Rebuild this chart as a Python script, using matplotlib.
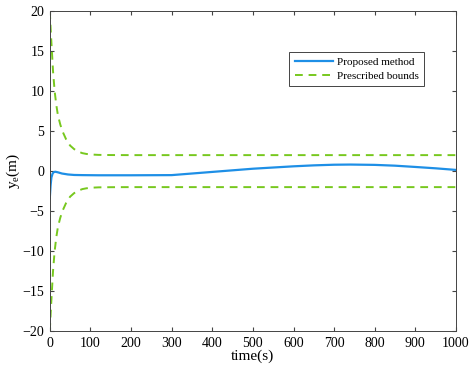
import numpy as np
import matplotlib
matplotlib.use('Agg')
import matplotlib.pyplot as plt

plt.rcParams['font.family'] = 'Liberation Serif'
plt.rcParams['mathtext.fontset'] = 'custom'
plt.rcParams['mathtext.rm'] = 'Liberation Serif'
plt.rcParams['mathtext.it'] = 'Liberation Serif:italic'

# values
t_proposed = [0, 2, 4, 7, 10, 14, 20, 30, 45, 60, 80, 120, 200, 300, 350, 400, 450,
              500, 550, 600, 650, 700, 740, 800, 850, 900, 950, 1000]
y_proposed = [-3.4, -1.8, -0.8, -0.3, -0.12, -0.08, -0.15, -0.3, -0.42, -0.48, -0.5,
              -0.52, -0.52, -0.5, -0.3, -0.1, 0.1, 0.3, 0.45, 0.6, 0.72, 0.8, 0.82,
              0.78, 0.68, 0.52, 0.35, 0.15]

t_bound = [0, 3, 5, 8, 12, 16, 20, 26, 32, 40, 50, 60, 70, 80, 90, 100, 120, 150, 200, 1000]
upper_bound = [20, 17.0, 15.2, 12.5, 10.0, 8.3, 7.0, 5.8, 4.9, 4.0, 3.2, 2.75, 2.45,
               2.25, 2.15, 2.08, 2.03, 2.01, 2.0, 2.0]
lower_bound = [-20, -17.0, -15.2, -12.5, -10.0, -8.3, -7.0, -5.8, -4.9, -4.0, -3.2, -2.75,
               -2.45, -2.25, -2.15, -2.08, -2.03, -2.01, -2.0, -2.0]

blue = '#1E8FE6'
green = '#77C81E'

fig = plt.figure(figsize=(4.74, 3.72), dpi=100)
ax = fig.add_axes([0.105, 0.110, 0.857, 0.860])

ax.plot(t_proposed, y_proposed, color=blue, lw=1.6, label='Proposed method')
ax.plot(t_bound, upper_bound, color=green, lw=1.4, ls=(0, (4, 3)), label='Prescribed bounds')
ax.plot(t_bound, lower_bound, color=green, lw=1.4, ls=(0, (4, 3)))

ax.set_xlim(0, 1000)
ax.set_ylim(-20, 20)
ax.set_xticks(np.arange(0, 1001, 100))
ax.set_yticks(np.arange(-20, 21, 5))
ax.tick_params(direction='in', top=True, right=True, labelsize=10, length=3,
               color='#444444', pad=4)
for s in ax.spines.values():
    s.set_color('#444444')
    s.set_linewidth(0.7)

ax.set_xlabel('time(s)', fontsize=11, labelpad=0)
ax.set_ylabel(r'y$_\mathrm{e}$(m)', fontsize=11, labelpad=0)

leg = ax.legend(loc='upper right', bbox_to_anchor=(0.936, 0.89), fontsize=8,
                fancybox=False, framealpha=1, edgecolor='#444444',
                handlelength=3.4, borderpad=0.5, labelspacing=0.35, handletextpad=0.4)
leg.get_frame().set_linewidth(0.7)

fig.savefig('out.png', dpi=100)
